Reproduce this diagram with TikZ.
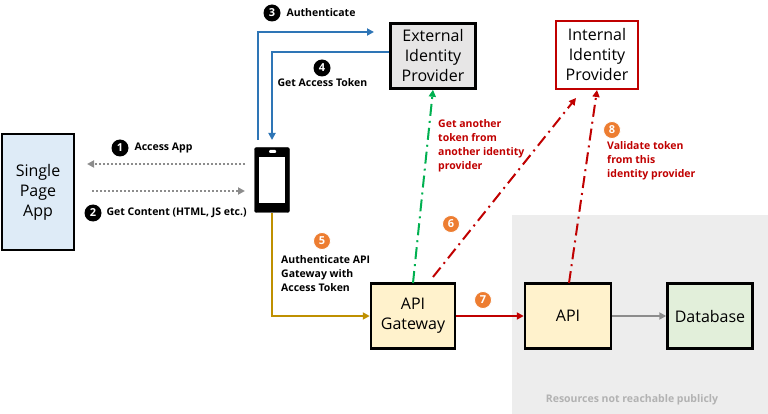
\documentclass[tikz,border=0pt]{standalone}
\usepackage{fontspec}
\setmainfont{Open Sans}
\usetikzlibrary{arrows.meta}
\definecolor{spablue}{HTML}{DEEBF7}
\definecolor{idpgray}{HTML}{E7E6E6}
\definecolor{apiyel}{HTML}{FFF2CC}
\definecolor{dbgreen}{HTML}{E2EFDA}
\definecolor{zonegray}{HTML}{EDEDED}
\definecolor{flowblue}{HTML}{2E75B6}
\definecolor{flowgold}{HTML}{BF9000}
\definecolor{flowred}{HTML}{C00000}
\definecolor{flowgreen}{HTML}{00B050}
\definecolor{steporange}{HTML}{ED7D31}
\tikzset{
  box/.style={draw, line width=2.5pt, align=center, font=\fontsize{16}{20}\selectfont, inner sep=0pt},
  num/.style={circle, fill=black, text=white, font=\bfseries\fontsize{11}{11}\selectfont, inner sep=0pt, minimum size=17pt},
  onum/.style={num, fill=steporange, draw=white, line width=0.8pt},
  lbl/.style={font=\bfseries\fontsize{10.5}{14}\selectfont, align=left},
  arr/.style={line width=2pt, -{Triangle[length=7pt,width=7pt]}},
  dashdot/.style={arr, dash pattern=on 12pt off 5pt on 2pt off 5pt}
}
\begin{document}
\begin{tikzpicture}[x=1pt,y=-1pt]
  \useasboundingbox (0,0) rectangle (768,414);
  \fill[zonegray] (512,215) rectangle (768,414);
  \node[font=\bfseries\fontsize{10.5}{12}\selectfont, text=black!30] (zone) at (632,400) {Resources not reachable publicly};

  %% boxes
  \node[box, fill=spablue, minimum width=72pt, minimum height=116pt] (spa) at (38,192) {Single\\Page\\App};
  \node[box, fill=idpgray, minimum width=85pt, minimum height=65pt] (ext) at (433,56) {External\\Identity\\Provider};
  \node[box, draw=flowred, fill=white, minimum width=82pt, minimum height=68pt] (int) at (597,55) {Internal\\Identity\\Provider};
  \node[box, fill=apiyel, minimum width=84pt, minimum height=65pt] (gw) at (413,316) {API\\Gateway};
  \node[box, fill=apiyel, minimum width=86pt, minimum height=65pt] (api) at (568,316) {API};
  \node[box, fill=dbgreen, minimum width=85pt, minimum height=65pt] (db) at (710,316) {Database};

  %% phone
  \node[draw, fill=black, rounded corners=2pt, minimum width=35pt, minimum height=65pt, inner sep=0pt] (phone) at (272,180) {};
  \fill[white] (259,157) rectangle (285,203);
  \fill[white, rounded corners=1pt] (269,150) rectangle (276,153);

  %% connectors
  \coordinate (p3a) at (258,140);
  \coordinate (p4b) at (272,140);
  \coordinate (p5a) at (272,213);
  \draw[arr, flowblue] (p3a) |- (374,32);
  \draw[arr, flowblue] (ext.west |- 0,52) -| (p4b);
  \draw[arr, flowgold] (p5a) |- (gw.west);
  \draw[line width=2pt, black!45, dash pattern=on 2pt off 2pt, -{Triangle[length=7pt,width=7pt]}] (245,164) -- (87,164);
  \draw[line width=2pt, black!45, dash pattern=on 2pt off 2pt, -{Triangle[length=7pt,width=7pt]}] (92,191) -- (245,191);
  \draw[dashdot, flowgreen] (413,283) -- (ext.south);
  \draw[dashdot, flowred] (433,277) -- (576,98);
  \draw[dashdot, flowred] (569,283) -- (597,90);
  \draw[arr, flowred] (gw.east) -- (api.west);
  \draw[arr, black!45] (api.east) -- (db.west);

  %% steps and labels
  \node[num] (s1) at (120,148) {1};
  \node[lbl, right=0pt] (t1) at (131,148) {Access App};
  \node[num] (s2) at (93,213) {2};
  \node[lbl, right=0pt] (t2) at (103,213) {Get Content (HTML, JS etc.)};
  \node[num] (s3) at (272,13) {3};
  \node[lbl, right=0pt] (t3) at (283,13) {Authenticate};
  \node[num] (s4) at (322,68) {4};
  \node[lbl, right=0pt] (t4) at (274,83) {Get Access Token};
  \node[onum] (s5) at (322,241) {5};
  \node[lbl, anchor=north west, inner sep=0pt] (t5) at (281,255) {Authenticate API\\Gateway with\\Access Token};
  \node[onum] (s6) at (451,224) {6};
  \node[onum] (s7) at (483,300) {7};
  \node[onum] (s8) at (612,130) {8};
  \node[lbl, text=flowred, anchor=north west, inner sep=0pt] (t6) at (438,119) {Get another\\token from\\another identity\\provider};
  \node[lbl, text=flowred, anchor=north west, inner sep=0pt] (t8) at (607,141) {Validate token\\from this\\identity provider};
\end{tikzpicture}
\end{document}
